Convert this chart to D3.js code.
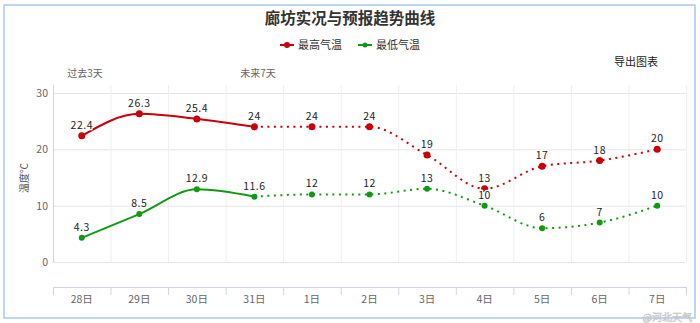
<!DOCTYPE html>
<html><head><meta charset="utf-8">
<script src="https://cdn.jsdelivr.net/npm/d3@7"></script>
<style>
body{margin:0;background:#fff;}
svg text{font-family:"Noto Sans CJK SC","DejaVu Sans",sans-serif;}
</style></head><body>
<svg id="c" width="700" height="323"></svg>
<script>
const categories = ["28日","29日","30日","31日","1日","2日","3日","4日","5日","6日","7日"];
const highTemps = [22.4,26.3,25.4,24,24,24,19,13,17,18,20];
const lowTemps = [4.3,8.5,12.9,11.6,12,12,13,10,6,7,10];
const yTicks = [0,10,20,30];
const pastCount = 4; // solid until index 3 (31日)
const seriesNames = ["最高气温","最低气温"];
const highLabels = ["22.4","26.3","25.4","24","24","24","19","13","17","18","20"];
const lowLabels = ["4.3","8.5","12.9","11.6","12","12","13","10","6","7","10"];

(function(){
const svg = d3.select("#c");
const pL=53,pR=686,pT=85,zeroY=262,axisY=287;
const red="#c8000a", green="#109a10";

svg.append("rect").attr("x",4).attr("y",5).attr("width",691).attr("height",313)
  .attr("fill","#fff").attr("stroke","#a9c9ee").attr("stroke-width",1.5);

const x = d3.scaleBand().domain(categories).range([pL,pR]);
const y = d3.scaleLinear().domain([0,30]).range([zeroY,93]);

svg.append("g").selectAll("line").data(yTicks).join("line")
  .attr("x1",pL).attr("x2",pR).attr("y1",d=>y(d)+0.5).attr("y2",d=>y(d)+0.5)
  .attr("stroke","#e6e6e6").attr("stroke-width",1);
const bounds = categories.map(c=>x(c)).concat([pR]);
svg.append("g").selectAll("line").data(bounds.slice(1)).join("line")
  .attr("x1",d=>d+0.5).attr("x2",d=>d+0.5).attr("y1",pT).attr("y2",zeroY)
  .attr("stroke","#eef0f4").attr("stroke-width",1);
svg.append("line").attr("x1",pL+0.5).attr("x2",pL+0.5).attr("y1",pT).attr("y2",zeroY)
  .attr("stroke","#ccd6eb");
svg.append("g").selectAll("text").data(yTicks).join("text")
  .attr("x",48).attr("y",d=>y(d)+4).attr("text-anchor","end")
  .attr("font-size",10.5).attr("fill","#666").text(d=>d);
svg.append("text").attr("transform","translate(28,178) rotate(-90)")
  .attr("text-anchor","middle").attr("font-size",10).attr("fill","#555").text("温度℃");

svg.append("line").attr("x1",pL).attr("x2",pR).attr("y1",axisY+0.5).attr("y2",axisY+0.5)
  .attr("stroke","#ccd6eb");
svg.append("g").selectAll("line").data(bounds).join("line")
  .attr("x1",d=>d+0.5).attr("x2",d=>d+0.5).attr("y1",axisY).attr("y2",axisY+8)
  .attr("stroke","#ccd6eb");
svg.append("g").selectAll("text").data(categories).join("text")
  .attr("x",d=>x(d)+x.bandwidth()/2).attr("y",axisY+16).attr("text-anchor","middle")
  .attr("font-size",10.5).attr("fill","#666").text(d=>d);

svg.append("text").attr("x",350).attr("y",24).attr("text-anchor","middle")
  .attr("font-size",15.5).attr("font-weight","bold").attr("fill","#333").text("廊坊实况与预报趋势曲线");

const lg = svg.append("g");
[[0,red,280],[1,green,358]].forEach(([i,col,lx])=>{
  lg.append("line").attr("x1",lx).attr("x2",lx+14).attr("y1",45).attr("y2",45).attr("stroke",col).attr("stroke-width",2);
  lg.append("circle").attr("cx",lx+7).attr("cy",45).attr("r",i?2.5:3).attr("fill",col);
  lg.append("text").attr("x",lx+18).attr("y",49).attr("font-size",11).attr("fill","#333").text(seriesNames[i]);
});

svg.append("text").attr("x",658).attr("y",66).attr("text-anchor","end")
  .attr("font-size",11).attr("fill","#222").text("导出图表");
svg.append("text").attr("x",85).attr("y",77).attr("text-anchor","middle").attr("font-size",10).attr("fill","#666").text("过去3天");
svg.append("text").attr("x",258).attr("y",77).attr("text-anchor","middle").attr("font-size",10).attr("fill","#666").text("未来7天");

const cx = i=>x(categories[i])+x.bandwidth()/2;
function drawSeries(vals,labels,col,r){
  const pts = vals.map((v,i)=>[cx(i),y(v)]);
  const gen = d3.line().curve(d3.curveMonotoneX);
  svg.append("path").attr("d",gen(pts.slice(0,pastCount))).attr("fill","none")
    .attr("stroke",col).attr("stroke-width",2);
  svg.append("path").attr("d",gen(pts.slice(pastCount-1))).attr("fill","none")
    .attr("stroke",col).attr("stroke-width",2).attr("stroke-dasharray","2,4.5");
  svg.append("g").selectAll("circle").data(pts).join("circle")
    .attr("cx",d=>d[0]).attr("cy",d=>d[1]).attr("r",r).attr("fill",col);
  svg.append("g").selectAll("text").data(pts).join("text")
    .attr("x",d=>d[0]).attr("y",d=>d[1]-7).attr("text-anchor","middle")
    .attr("font-size",10.5).attr("fill","#222").attr("letter-spacing","0.5")
    .attr("stroke","#fff").attr("stroke-width",2.5).attr("paint-order","stroke")
    .text((d,i)=>labels[i]);
}
drawSeries(highTemps,highLabels,red,3.5);
drawSeries(lowTemps,lowLabels,green,3);

svg.append("text").attr("x",692).attr("y",321).attr("text-anchor","end")
  .attr("font-size",10).attr("fill","#e4e4e4").attr("stroke","#bbb").attr("stroke-width",0.5)
  .attr("opacity",0.85).text("@河北天气");
})();
</script></body></html>
